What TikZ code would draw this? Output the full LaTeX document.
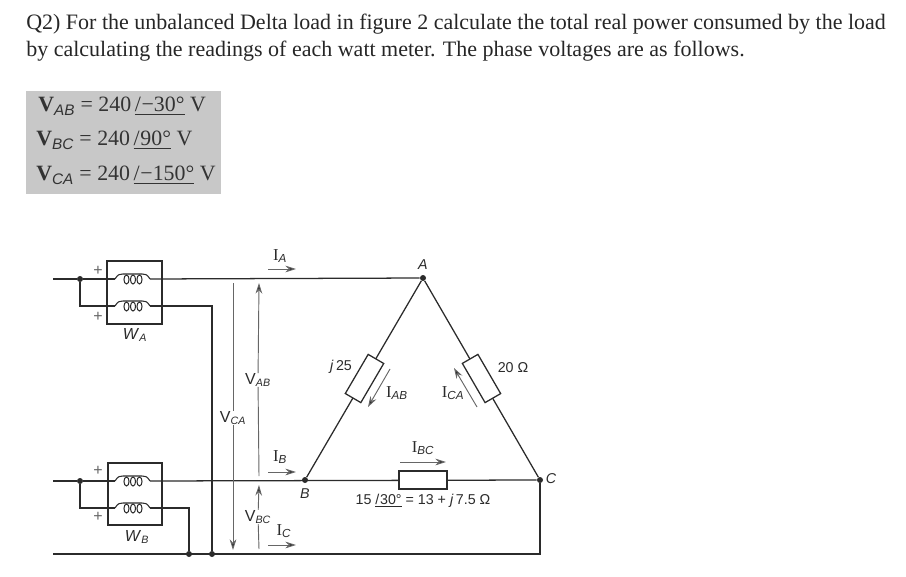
\documentclass[tikz,border=0pt]{standalone}
\usepackage{fontspec}
\usepackage{tikz}
\setmainfont{Liberation Serif}
\setsansfont{Liberation Sans}
\usetikzlibrary{arrows.meta}

\definecolor{wirecol}{HTML}{2B2B2B}
\definecolor{thincol}{HTML}{666666}
\definecolor{tablecol}{HTML}{C8C8C8}

\newcommand{\angl}[1]{\underline{/\kern0.5pt #1}}
\newcommand{\tsub}[1]{\textsubscript{\sffamily\itshape #1}}

\tikzset{
	wire/.style = {draw = wirecol, line width = 0.95pt},
	thinline/.style = {draw = thincol, line width = 0.7pt},
	tipline/.style = {thinline, -{Stealth[length = 8pt, width = 5pt, fill = wirecol]}},
	meterbox/.style = {wire},
	loadbox/.style = {draw = wirecol, line width = 0.95pt, fill = white, minimum width = 34pt, minimum height = 13.5pt, inner sep = 0pt},
	junction/.style = {circle, fill = wirecol, inner sep = 0pt, minimum size = 4.5pt},
	lbl/.style = {font = \sffamily\fontsize{10.7}{12}\selectfont, text = wirecol, inner sep = 0pt},
	vlbl/.style = {font = \sffamily\fontsize{12}{12}\selectfont, text = wirecol, inner sep = 0pt},
	ilbl/.style = {font = \rmfamily\fontsize{12.5}{12}\selectfont, text = wirecol, inner sep = 0pt},
	pluslbl/.style = {font = \sffamily\fontsize{12}{12}\selectfont, text = thincol, inner sep = 0pt},
	para/.style = {font = \fontsize{16.5}{18}\selectfont, anchor = base west, inner sep = 0pt, text = black!85},
	tablerow/.style = {font = \fontsize{16.4}{17}\selectfont, anchor = base west, inner sep = 0pt, text = black!80},
	coil/.pic = {
		\coordinate (-in) at (-18,0);
		\coordinate (-out) at (17,0);
		\draw[wire, line width = 0.8pt] (-18,0) .. controls (-15,-5) and (-13,-5) .. (-10,-5) -- (9,-5) .. controls (12,-5) and (14,-5) .. (17,0);
		\foreach \x in {-6.5,0,6.5}{
			\draw[wire, line width = 0.75pt] (\x,0.5) ellipse [x radius = 1.9pt, y radius = 3.4pt];
		}
	}
}

\begin{document}
\begin{tikzpicture}[x = 0.75pt, y = -0.75pt]
\useasboundingbox (0,0) rectangle (906,577);

% question text
\node[para] (lineone) at (26,30) {Q2) For the unbalanced Delta load in figure 2 calculate the total real power consumed by the load};
\node[para] (linetwo) at (26,57) {by calculating the readings of each watt meter. The phase voltages are as follows.};

% voltage table
\fill[tablecol] (26,91) rectangle (221,194);
\node[tablerow] (rowab) at (38,112) {\textbf{V}\tsub{AB} = 240\,\angl{−30°} V};
\node[tablerow] (rowbc) at (36,146) {\textbf{V}\tsub{BC} = 240\,\angl{90°} V};
\node[tablerow] (rowca) at (36,181) {\textbf{V}\tsub{CA} = 240\,\angl{−150°} V};

% line points
\coordinate (sa) at (53,279);
\node[junction] (ja) at (80,279) {};
\coordinate (la) at (80,306);
\coordinate (ra) at (212,306);
\coordinate (sb) at (53,481);
\node[junction] (jb) at (80,481) {};
\coordinate (lb) at (80,508);
\coordinate (rb) at (189,508);
\coordinate (sc) at (53,554);
\node[junction] (jc) at (189,554) {};
\node[junction] (jd) at (212,554) {};
\coordinate (cc) at (540,554);
\node[junction] (A) at (423,278) {};
\node[junction] (B) at (305,480) {};
\node[junction] (C) at (540,480) {};

% watt meters
\draw[meterbox] (107,261) rectangle (162,324);
\draw[meterbox] (108,463) rectangle (162,525);
\pic (ca) at (133,279) {coil};
\pic (cb) at (133,306) {coil};
\pic (cc) at (133,481) {coil};
\pic (cd) at (133,508) {coil};

\draw[wire] (sa) -- (ja) -- (ca-in);
\draw[wire] (ca-out) -- (A);
\draw[wire] (ja) -- (la) -- (cb-in);
\draw[wire] (cb-out) -- (ra) -- (jd);
\draw[wire] (sb) -- (jb) -- (cc-in);
\draw[wire] (cc-out) -- (C);
\draw[wire] (jb) -- (lb) -- (cd-in);
\draw[wire] (cd-out) -- (rb) -- (jc);
\draw[wire] (sc) -- (cc) -- (C);

% delta load
\draw[wire] (A) -- (B);
\draw[wire] (A) -- (C);
\node[loadbox, rotate = 59.7] (zab) at (364.5,378.5) {};
\node[loadbox, rotate = -59.9] (zca) at (481.5,378.5) {};
\node[loadbox, minimum width = 36pt] (zbc) at (423,480) {};

\foreach \p/\t/\n in {98/271/pa, 98/317/pb, 98/471/pc, 98/517/pd}{
	\node[pluslbl] (\n) at (\p,\t) {+};
}
\node[vlbl] (wa) at (135,335) {\textit{W}\textsubscript{\textit{A}}};
\node[vlbl] (wb) at (137,537) {\textit{W}\textsubscript{\textit{B}}};
\node[lbl] (na) at (423,265) {\textit{A}};
\node[lbl] (nb) at (305,494) {\textit{B}};
\node[lbl] (nc) at (551,479) {\textit{C}};
\node[lbl] (jval) at (341,367) {\textit{j}\,25};
\node[lbl] (rval) at (513,368) {20 Ω};
\node[lbl] (bcval) at (423,501) {15 \angl{30°} = 13 + \textit{j}\,7.5 Ω};

% line currents
\foreach \n/\y/\s/\lx/\ly in {ia/269/A/280/256, ib/472/B/280/457, ic/545/C/284/531}{
	\coordinate (\n l) at (268,\y);
	\coordinate (\n r) at (296,\y);
	\draw[tipline] (\n l) -- (\n r);
	\node[ilbl] (\n t) at (\lx,\ly) {I\tsub{\s}};
}

% load currents
\coordinate (abs) at (390,369);
\coordinate (abe) at (368,407);
\coordinate (cas) at (477,407);
\coordinate (cae) at (454,368);
\coordinate (bcs) at (400,462);
\coordinate (bce) at (446,462);
\draw[tipline] (abs) -- (abe);
\draw[tipline] (cas) -- (cae);
\draw[tipline] (bcs) -- (bce);
\node[ilbl] (iab) at (397,393) {I\tsub{AB}};
\node[ilbl] (ica) at (453,393) {I\tsub{CA}};
\node[ilbl] (ibc) at (423,448) {I\tsub{BC}};

% voltage arrows
\node[vlbl] (vab) at (258,380) {V\tsub{AB}};
\node[vlbl] (vca) at (233,418) {V\tsub{CA}};
\node[vlbl] (vbc) at (258,517) {V\tsub{BC}};
\coordinate (abb) at (259,476);
\coordinate (abt) at (259,283);
\coordinate (cat) at (233,283);
\coordinate (cab) at (233,550);
\coordinate (bcb) at (259,549);
\coordinate (bct) at (259,485);
\draw[thinline] (abb) -- (vab);
\draw[tipline] (vab) -- (abt);
\draw[thinline] (cat) -- (vca);
\draw[tipline] (vca) -- (cab);
\draw[thinline] (bcb) -- (vbc);
\draw[tipline] (vbc) -- (bct);
\end{tikzpicture}
\end{document}
